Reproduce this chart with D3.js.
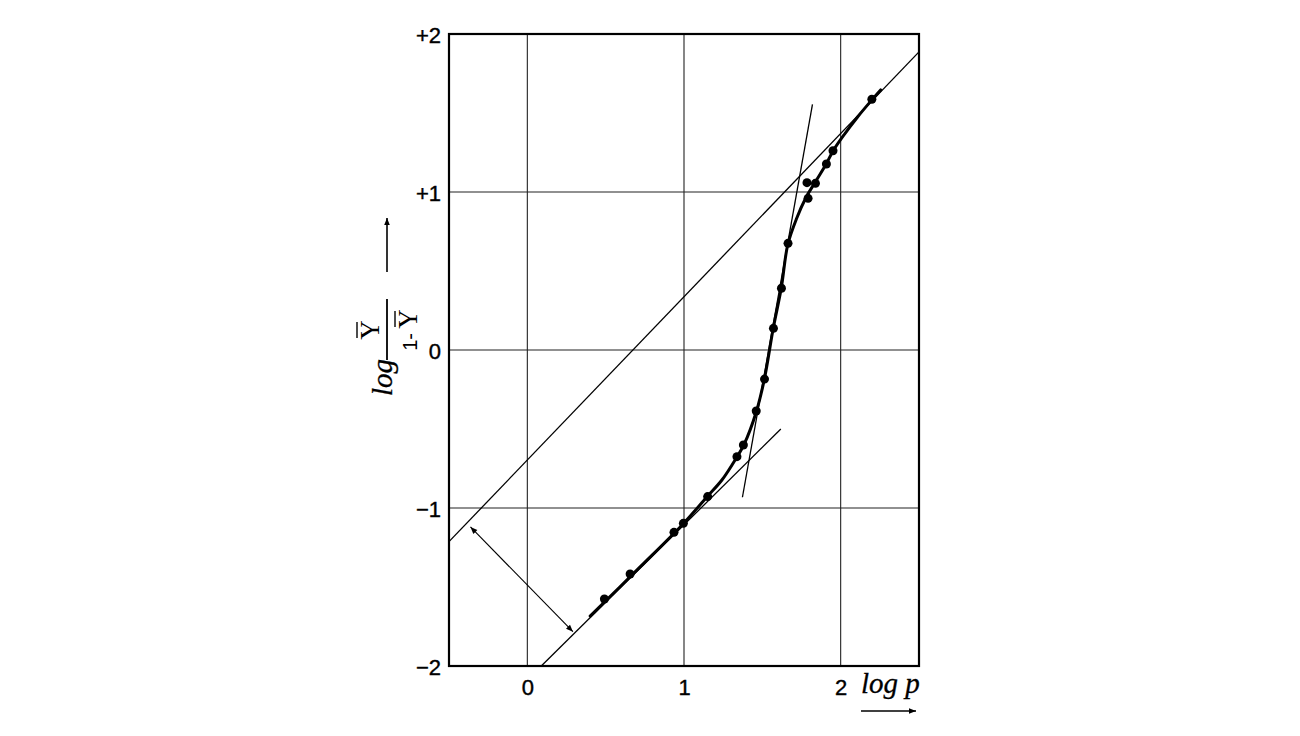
<!DOCTYPE html>
<html><head><meta charset="utf-8">
<script src="https://cdn.jsdelivr.net/npm/d3@7"></script>
<style>body{margin:0;background:#fff}</style>
</head><body><svg id="c" width="1300" height="736"></svg>
<script>
// ---- data ----
const xTicks = [0, 1, 2];
const xTickLabels = ["0", "1", "2"];
const yTicks = [-2, -1, 0, 1, 2];
const yTickLabels = ["\u22122", "\u22121", "0", "+1", "+2"];

// measured points (log p, log Y/(1-Y))
const pointsX = [0.492, 0.656, 0.936, 0.996, 1.151, 1.338, 1.379, 1.461, 1.514, 1.571, 1.622, 1.664, 1.792, 1.785, 1.839, 1.909, 1.951, 2.199];
const pointsY = [-1.576, -1.418, -1.154, -1.097, -0.928, -0.675, -0.601, -0.386, -0.184, 0.137, 0.391, 0.675, 0.960, 1.059, 1.055, 1.177, 1.261, 1.587];

// fitted (thick) curve
const curveX = [0.401, 0.720, 0.994, 1.146, 1.242, 1.338, 1.382, 1.462, 1.513, 1.570, 1.621, 1.662, 1.720, 1.777, 1.834, 1.904, 1.955, 2.025, 2.108, 2.201, 2.255];
const curveY = [-1.684, -1.373, -1.101, -0.930, -0.823, -0.677, -0.601, -0.389, -0.184, 0.139, 0.392, 0.665, 0.835, 0.962, 1.057, 1.171, 1.266, 1.367, 1.475, 1.585, 1.646];

// straight reference lines: [x1, y1, x2, y2]
const upperAsymptote = [-0.5, -1.213, 2.5, 1.887];
const lowerAsymptote = [0.089, -2.0, 1.618, -0.5];
const steepTangent = [1.373, -0.932, 1.820, 1.555];
const distanceArrow = [-0.363, -1.120, 0.291, -1.783];

// ---- drawing ----
const svg = d3.select("#c");
const x = d3.scaleLinear().domain([-0.5, 2.5]).range([449, 919]);
const y = d3.scaleLinear().domain([-2, 2]).range([666, 34]);

svg.append("rect").attr("width", 1300).attr("height", 736).attr("fill", "#fff");

const defs = svg.append("defs");
defs.append("marker").attr("id", "ah").attr("viewBox", "0 0 10 10")
  .attr("refX", 10).attr("refY", 5).attr("markerWidth", 10).attr("markerHeight", 7)
  .attr("markerUnits", "userSpaceOnUse").attr("orient", "auto-start-reverse")
  .append("path").attr("d", "M0,1 L10,5 L0,9 z").attr("fill", "#000");

// grid
const g = svg.append("g");
g.selectAll(".vg").data(xTicks).join("line")
  .attr("x1", d => x(d)).attr("x2", d => x(d)).attr("y1", y(-2)).attr("y2", y(2))
  .attr("stroke", "#222").attr("stroke-width", 1.1);
g.selectAll(".hg").data(yTicks.filter(d => d > -2 && d < 2)).join("line")
  .attr("x1", x(-0.5)).attr("x2", x(2.5)).attr("y1", d => y(d)).attr("y2", d => y(d))
  .attr("stroke", "#222").attr("stroke-width", 1.1);

// frame
svg.append("rect").attr("x", x(-0.5)).attr("y", y(2))
  .attr("width", x(2.5) - x(-0.5)).attr("height", y(-2) - y(2))
  .attr("fill", "none").attr("stroke", "#000").attr("stroke-width", 2.2);

// tick labels
const yAxis = d3.axisLeft(y).tickValues(yTicks).tickSize(0).tickPadding(8)
  .tickFormat((d, i) => yTickLabels[i]);
const ya = svg.append("g").attr("transform", `translate(${x(-0.5)},0)`).call(yAxis);
ya.attr("font-size", 22).attr("font-family", "Liberation Sans, Arial, sans-serif");
ya.select(".domain").remove();
ya.selectAll("text").style("font-size", "22px").attr("fill", "#000")
  .attr("stroke", "#000").attr("stroke-width", 0.4).attr("dy", "0.4em");

const xAxis = d3.axisBottom(x).tickValues(xTicks).tickSize(0).tickPadding(13)
  .tickFormat((d, i) => xTickLabels[i]);
const xa = svg.append("g").attr("transform", `translate(0,${y(-2)})`).call(xAxis);
xa.attr("font-size", 22).attr("font-family", "Liberation Sans, Arial, sans-serif");
xa.select(".domain").remove();
xa.selectAll("text").style("font-size", "22px").attr("fill", "#000")
  .attr("stroke", "#000").attr("stroke-width", 0.4);

// straight lines
function seg(a, w, marker) {
  const l = svg.append("line")
    .attr("x1", x(a[0])).attr("y1", y(a[1])).attr("x2", x(a[2])).attr("y2", y(a[3]))
    .attr("stroke", "#000").attr("stroke-width", w);
  if (marker) l.attr("marker-start", "url(#ah)").attr("marker-end", "url(#ah)");
  return l;
}
seg(upperAsymptote, 1.3);
seg(lowerAsymptote, 1.3);
seg(steepTangent, 1.3);
seg(distanceArrow, 1.1, true);

// fitted curve
const line = d3.line().x(d => x(d[0])).y(d => y(d[1])).curve(d3.curveCatmullRom.alpha(0.5));
svg.append("path").datum(curveX.map((v, i) => [v, curveY[i]]))
  .attr("d", line).attr("fill", "none").attr("stroke", "#000").attr("stroke-width", 3)
  .attr("stroke-linecap", "round");

// points
svg.selectAll(".pt").data(pointsX.map((v, i) => [v, pointsY[i]])).join("circle")
  .attr("cx", d => x(d[0])).attr("cy", d => y(d[1])).attr("r", 4.5).attr("fill", "#000");

// x axis title
svg.append("text").attr("x", 861).attr("y", 693)
  .attr("font-family", "Liberation Serif, Times New Roman, serif").attr("font-style", "italic")
  .attr("font-size", 29).attr("fill", "#000").attr("stroke", "#000").attr("stroke-width", 0.3)
  .text("log p");
svg.append("line").attr("x1", 861).attr("x2", 916).attr("y1", 711).attr("y2", 711)
  .attr("stroke", "#000").attr("stroke-width", 1.6).attr("marker-end", "url(#ah)");

// y axis title (rotated)
const yl = svg.append("g").attr("transform", "translate(387,330) rotate(-90)");
const serif = "Liberation Serif, Times New Roman, serif";
yl.append("text").attr("x", -29).attr("y", 5).attr("text-anchor", "end")
  .attr("font-family", serif).attr("font-style", "italic").attr("font-size", 29)
  .attr("stroke", "#000").attr("stroke-width", 0.3).attr("fill", "#000").text("log");
yl.append("line").attr("x1", -30).attr("x2", 31).attr("y1", 0).attr("y2", 0)
  .attr("stroke", "#000").attr("stroke-width", 1.8);
// numerator Y-bar
yl.append("text").attr("x", 0).attr("y", -8).attr("text-anchor", "middle")
  .attr("font-family", serif).attr("font-size", 27).attr("fill", "#000").text("Y");
yl.append("line").attr("x1", -8).attr("x2", 8).attr("y1", -30).attr("y2", -30)
  .attr("stroke", "#000").attr("stroke-width", 1.4);
// denominator 1 - Y-bar
yl.append("text").attr("x", -3).attr("y", 30).attr("text-anchor", "end")
  .attr("font-family", "Liberation Sans, Arial, sans-serif").attr("font-size", 20)
  .attr("fill", "#000").text("1-");
yl.append("text").attr("x", 11).attr("y", 30).attr("text-anchor", "middle")
  .attr("font-family", serif).attr("font-size", 27).attr("fill", "#000").text("Y");
yl.append("line").attr("x1", 3).attr("x2", 19).attr("y1", 8).attr("y2", 8)
  .attr("stroke", "#000").attr("stroke-width", 1.4);
// arrow beside the y title
svg.append("line").attr("x1", 387).attr("x2", 387).attr("y1", 272).attr("y2", 218)
  .attr("stroke", "#000").attr("stroke-width", 1.6).attr("marker-end", "url(#ah)");
</script></body></html>
